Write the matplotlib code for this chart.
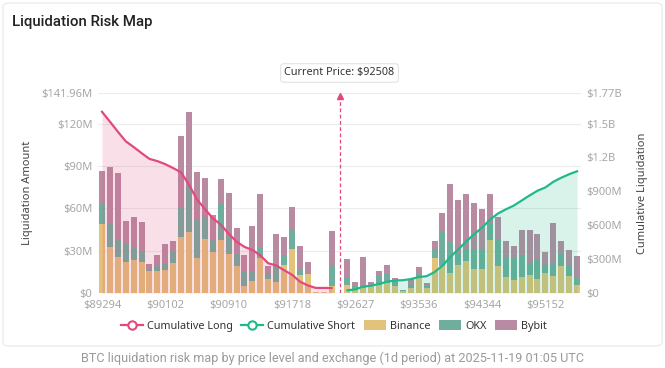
import numpy as np
import matplotlib
matplotlib.use("Agg")
import matplotlib.pyplot as plt
from matplotlib.lines import Line2D
from matplotlib.patches import Patch, FancyBboxPatch

# price-level tick labels, shown every 8 categories (61 categories, index 30 = current price)
tick_labels = ["$89294", "$90102", "$90910", "$91718", "$92627", "$93536", "$94344", "$95152"]
current_price_label = "Current Price: $92508"
current_idx = 30

# liquidation amounts per exchange, $M (left side = longs, right side = shorts)
binance = [49.1, 32.3, 25.3, 22.0, 23.7, 22.0, 15.4, 15.4, 16.1, 21.3,
           39.7, 43.6, 24.6, 38.3, 28.8, 37.8, 27.7, 18.9, 4.8, 8.3,
           24.9, 10.2, 7.9, 19.6, 31.4, 12.6, 13.6, 0.4, 0.5, 4.8,
           0.0,
           6.0, 2.4, 3.5, 4.7, 6.0, 7.2, 5.3, 1.5, 3.7, 10.5,
           3.5, 24.7, 18.9, 14.3, 20.0, 22.5, 17.1, 17.1, 37.8, 18.9,
           11.4, 9.5, 11.4, 13.1, 10.0, 14.3, 12.4, 18.9, 12.4, 6.0]
okx = [14.6, 16.8, 12.5, 12.9, 8.2, 7.5, 1.7, 3.5, 4.7, 7.5,
       21.2, 33.0, 27.3, 15.9, 9.5, 26.3, 13.6, 9.0, 10.2, 7.1,
       7.4, 4.1, 11.0, 7.6, 14.1, 4.5, 0.5, 0.2, 0.2, 14.8,
       0.0,
       5.4, 2.3, 1.2, 0.0, 6.4, 6.4, 3.0, 0.5, 2.3, 3.5,
       1.3, 6.3, 25.4, 21.6, 8.5, 8.7, 13.6, 13.1, 11.3, 18.9,
       14.2, 15.3, 15.8, 8.2, 14.1, 5.8, 8.9, 9.5, 7.0, 4.7]
bybit = [22.8, 40.0, 47.1, 16.5, 21.9, 21.0, 3.5, 7.8, 14.1, 8.3,
         50.5, 51.8, 33.7, 27.1, 17.1, 16.7, 29.9, 18.1, 12.2, 32.3,
         37.9, 4.6, 22.9, 12.9, 15.8, 16.4, 7.9, 0.2, 0.2, 24.7,
         0.0,
         12.6, 3.3, 20.6, 3.2, 3.0, 6.5, 2.4, 0.3, 3.8, 4.5,
         2.4, 5.6, 12.5, 41.6, 37.5, 38.8, 33.4, 29.2, 20.9, 16.0,
         11.5, 8.3, 17.6, 23.5, 17.9, 8.7, 28.7, 8.2, 11.3, 15.3]

# cumulative liquidation, $M
cum_long = [1604, 1517, 1428, 1343, 1292, 1238, 1187, 1167, 1140, 1105,
            1068, 957, 828, 743, 661, 606, 525, 454, 408, 381,
            333, 263, 244, 202, 162, 101, 67, 45, 45, 44]
cum_short = [24, 32, 57, 65, 80, 100, 111, 113, 123, 141,
             149, 185, 242, 320, 386, 456, 520, 579, 649, 703,
             740, 773, 818, 863, 905, 934, 984, 1020, 1051, 1077]

c_binance = "#e3c27b"
c_okx = "#6fae9d"
c_bybit = "#b98ba2"
c_long = "#e14a7b"
c_short = "#20b98b"
tick_col = "#a6a6a6"

plt.rcParams['font.family'] = ['Noto Sans', 'DejaVu Sans']
narrow = ['Roboto', 'DejaVu Sans']

fig = plt.figure(figsize=(6.65, 3.68), dpi=100)
fig.patch.set_facecolor("white")

# card outline
card = FancyBboxPatch((3 / 665, 22 / 368), 659 / 665, 343 / 368, transform=fig.transFigure,
                      boxstyle="round,pad=0,rounding_size=0.01", facecolor="white",
                      edgecolor="#ececec", linewidth=1, zorder=-10)
fig.patches.append(card)

ax = fig.add_axes([98 / 665, 75 / 368, 483 / 665, 200 / 368])
ax2 = ax.twinx()

n = len(binance)
x = np.arange(n)
b = np.array(binance)
o = np.array(okx)
y = np.array(bybit)
w = 0.76
ax.bar(x, b, w, color=c_binance, zorder=2)
ax.bar(x, o, w, bottom=b, color=c_okx, zorder=2)
ax.bar(x, y, w, bottom=b + o, color=c_bybit, zorder=2)

ax.set_xlim(-0.5, n - 0.5)
ax.set_ylim(0, 141.96)
ax.set_yticks([0, 30, 60, 90, 120, 141.96])
ax.set_yticklabels(["$0", "$30M", "$60M", "$90M", "$120M", "$141.96M"])
ax.set_xticks(np.arange(0, n, 8))
ax.set_xticklabels(tick_labels)
ax.grid(axis="y", color="#ececec", linewidth=0.8, zorder=0)
ax.set_axisbelow(True)
ax.set_ylabel("Liquidation Amount", fontsize=8, color="#444444", labelpad=6)

# cumulative lines on the right axis
xl = np.arange(len(cum_long))
xs = np.arange(current_idx + 1, current_idx + 1 + len(cum_short))
ax2.fill_between(xl, cum_long, 0, color=c_long, alpha=0.17, linewidth=0, zorder=1)
ax2.fill_between(xs, cum_short, 0, color=c_short, alpha=0.17, linewidth=0, zorder=1)
ax2.plot(xl, cum_long, color=c_long, lw=1.6, zorder=3)
ax2.plot(xs, cum_short, color=c_short, lw=1.6, zorder=3)
ax2.set_ylim(0, 1770)
ax2.set_yticks([0, 300, 600, 900, 1200, 1500, 1770])
ax2.set_yticklabels(["$0", "$300M", "$600M", "$900M", "$1.2B", "$1.5B", "$1.77B"])
ax2.set_ylabel("Cumulative Liquidation", fontsize=8, color="#444444", labelpad=11)

for a in (ax, ax2):
    for s in a.spines.values():
        s.set_visible(False)
    a.tick_params(length=0, labelsize=8, colors=tick_col, pad=4)
ax.tick_params(axis="x", pad=5)

# current price marker
ax2.plot([current_idx, current_idx], [0, 1740], color=c_long, lw=0.9, ls=(0, (3, 2)), zorder=4)
ax2.plot([current_idx], [1745], marker="^", ms=5, color=c_long, zorder=4)
ax.text(current_idx, 1.10, current_price_label, transform=ax.get_xaxis_transform(),
        ha="center", va="center", fontsize=7.8, color="#333333",
        bbox=dict(boxstyle="round,pad=0.35,rounding_size=0.3", fc="white", ec="#e2e2e2", lw=0.8))

# legend
handles = [
    Line2D([], [], color=c_long, lw=1.6, marker="o", ms=6, mfc="white", mew=1.5),
    Line2D([], [], color=c_short, lw=1.6, marker="o", ms=6, mfc="white", mew=1.5),
    Patch(facecolor=c_binance, edgecolor="none"),
    Patch(facecolor=c_okx, edgecolor="none"),
    Patch(facecolor=c_bybit, edgecolor="none"),
]
labels = ["Cumulative Long", "Cumulative Short", "Binance", "OKX", "Bybit"]
fig.legend(handles, labels, loc="center", bbox_to_anchor=(334 / 665, 1 - 326 / 368),
           ncol=5, frameon=False, fontsize=7.8, handlelength=2.0, handleheight=1.1,
           columnspacing=0.8, handletextpad=0.4, labelcolor="#333333")

fig.text(12 / 665, 1 - 22 / 368, "Liquidation Risk Map", family=narrow, fontsize=10.8,
         weight="medium", color="#222222", va="center", ha="left")
fig.text(0.5, 1 - 358 / 368,
         "BTC liquidation risk map by price level and exchange (1d period) at 2025-11-19 01:05 UTC",
         family=narrow, fontsize=9.1, color="#9a9a9a", ha="center", va="center")

fig.savefig("out.png", dpi=100, facecolor="white")
